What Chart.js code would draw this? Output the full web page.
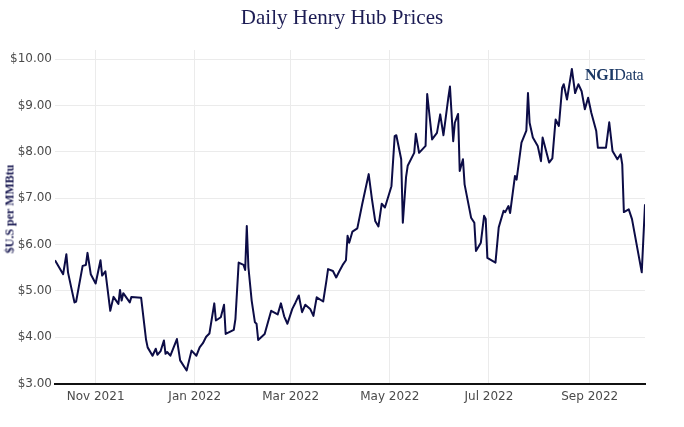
<!DOCTYPE html>
<html>
<head>
<meta charset="utf-8">
<script src="https://cdn.jsdelivr.net/npm/chart.js@4.4.0/dist/chart.umd.min.js"></script>
<style>
  html, body { margin: 0; padding: 0; background: #fff; }
  #wrap { position: relative; width: 684px; height: 427px; }
  #title { position: absolute; left: 0; width: 684px; top: 5px; text-align: center;
           font-family: "Liberation Serif", "DejaVu Serif", serif; font-size: 21px; color: #1c1c54; }
  #logo { position: absolute; left: 585px; top: 66px; font-family: "Liberation Serif", serif;
          font-size: 16px; color: #1d3a66; letter-spacing: -0.3px; white-space: nowrap; }
  #logo b { font-weight: bold; }
  #ytitle { position: absolute; left: 10px; top: 209px; transform: translate(-50%, -50%) rotate(-90deg);
            font-family: "Liberation Serif", serif; font-size: 12px; font-weight: bold; color: #14144e;
            white-space: nowrap; }
</style>
</head>
<body>
<div id="wrap">
  <canvas id="c" width="684" height="427"></canvas>
  <div id="title">Daily Henry Hub Prices</div>
  <div id="logo"><b>NGI</b>Data</div>
  <div id="ytitle">$U.S per MMBtu</div>
</div>
<script>
const dates = [
  "2021-10-07","2021-10-12","2021-10-14","2021-10-15","2021-10-17","2021-10-19","2021-10-20","2021-10-24",
  "2021-10-26","2021-10-27","2021-10-29","2021-11-01","2021-11-04","2021-11-05","2021-11-07","2021-11-10",
  "2021-11-12","2021-11-15","2021-11-16","2021-11-17","2021-11-18","2021-11-22","2021-11-23","2021-11-29",
  "2021-12-01","2021-12-02","2021-12-03","2021-12-06","2021-12-08","2021-12-09","2021-12-11","2021-12-13",
  "2021-12-14","2021-12-15","2021-12-17","2021-12-21","2021-12-23","2021-12-27","2021-12-30","2022-01-02",
  "2022-01-04","2022-01-06","2022-01-08","2022-01-10","2022-01-13","2022-01-14","2022-01-17","2022-01-19",
  "2022-01-20","2022-01-25","2022-01-26","2022-01-28","2022-01-31","2022-02-01","2022-02-02","2022-02-03",
  "2022-02-05","2022-02-07","2022-02-08","2022-02-09","2022-02-13","2022-02-17","2022-02-21","2022-02-23",
  "2022-02-25","2022-02-27","2022-03-02","2022-03-04","2022-03-06","2022-03-08","2022-03-10","2022-03-13",
  "2022-03-15","2022-03-17","2022-03-21","2022-03-23","2022-03-24","2022-03-27","2022-03-29","2022-03-31",
  "2022-04-02","2022-04-04","2022-04-05","2022-04-06","2022-04-08","2022-04-11","2022-04-14","2022-04-18",
  "2022-04-20","2022-04-22","2022-04-24","2022-04-26","2022-04-28","2022-05-02","2022-05-04","2022-05-05",
  "2022-05-08","2022-05-09","2022-05-11","2022-05-12","2022-05-16","2022-05-17","2022-05-19","2022-05-23",
  "2022-05-24","2022-05-27","2022-05-30","2022-06-01","2022-06-03","2022-06-06","2022-06-07","2022-06-09",
  "2022-06-10","2022-06-12","2022-06-13","2022-06-15","2022-06-16","2022-06-20","2022-06-22","2022-06-23",
  "2022-06-26","2022-06-28","2022-06-29","2022-06-30","2022-07-05","2022-07-07","2022-07-10","2022-07-11",
  "2022-07-13","2022-07-14","2022-07-17","2022-07-18","2022-07-21","2022-07-24","2022-07-25","2022-07-26",
  "2022-07-28","2022-07-31","2022-08-02","2022-08-03","2022-08-07","2022-08-09","2022-08-11","2022-08-13",
  "2022-08-15","2022-08-16","2022-08-18","2022-08-21","2022-08-23","2022-08-25","2022-08-27","2022-08-29",
  "2022-08-31","2022-09-02","2022-09-05","2022-09-06","2022-09-11","2022-09-13","2022-09-15","2022-09-18",
  "2022-09-20","2022-09-21","2022-09-22","2022-09-25","2022-09-27","2022-10-03","2022-10-05"
];
const prices = [
  5.66,5.36,5.79,5.40,5.07,4.75,4.77,5.54,
  5.56,5.82,5.36,5.16,5.66,5.33,5.42,4.57,
  4.87,4.72,5.02,4.79,4.95,4.75,4.87,4.85,
  4.25,3.95,3.78,3.60,3.75,3.62,3.70,3.93,
  3.64,3.68,3.60,3.96,3.50,3.28,3.71,3.60,
  3.78,3.87,4.01,4.08,4.73,4.36,4.43,4.70,
  4.07,4.16,4.39,5.61,5.56,5.45,6.40,5.51,
  4.79,4.32,4.29,3.94,4.07,4.57,4.49,4.73,
  4.45,4.29,4.61,4.75,4.90,4.54,4.70,4.61,
  4.46,4.86,4.77,5.22,5.47,5.43,5.29,5.43,
  5.56,5.66,6.19,6.04,6.28,6.35,6.87,7.52,
  6.98,6.51,6.39,6.88,6.80,7.26,8.34,8.36,
  7.84,6.47,7.46,7.70,7.98,8.39,7.98,8.13,
  9.25,8.27,8.41,8.81,8.36,9.17,9.41,8.23,
  8.63,8.82,7.59,7.84,7.30,6.58,6.47,5.86,
  6.04,6.62,6.55,5.71,5.61,6.37,6.73,6.70,
  6.83,6.68,7.48,7.40,8.20,8.46,9.27,8.63,
  8.31,8.13,7.80,8.31,7.77,7.86,8.70,8.56,
  9.38,9.46,9.13,9.79,9.27,9.46,9.31,8.92,
  9.17,8.84,8.45,8.09,8.09,8.64,8.02,7.84,
  7.95,7.73,6.70,6.76,6.55,5.40,6.87
];
const xTickDates = ["2021-11-01","2022-01-01","2022-03-01","2022-05-01","2022-07-01","2022-09-01"];
const xTickLabels = ["Nov 2021","Jan 2022","Mar 2022","May 2022","Jul 2022","Sep 2022"];
const yTickValues = [3,4,5,6,7,8,9,10];

const pts = dates.map((d, i) => ({ x: Date.parse(d), y: prices[i] }));
const xTicks = xTickDates.map(d => Date.parse(d));
const tickFont = { family: "'DejaVu Sans', Verdana, sans-serif", size: 12 };

new Chart(document.getElementById('c'), {
  type: 'line',
  data: { datasets: [{ data: pts, borderColor: '#0c0c46', borderWidth: 2, pointRadius: 0,
                        tension: 0, borderJoinStyle: 'round', fill: false }] },
  options: {
    responsive: false, animation: false, parsing: true,
    layout: { padding: { top: 50, right: 39, bottom: 0, left: 0 } },
    plugins: { legend: { display: false }, tooltip: { enabled: false }, title: { display: false } },
    scales: {
      x: {
        type: 'linear',
        min: Date.parse(dates[0]), max: Date.parse(dates[dates.length - 1]),
        afterBuildTicks: s => { s.ticks = xTicks.map(v => ({ value: v })); },
        afterFit: s => { s.height = 43.5; },
        ticks: { callback: (v, i) => xTickLabels[i], color: '#4a4a4a', font: tickFont, padding: 6, maxRotation: 0, autoSkip: false },
        grid: { color: '#ebebeb', drawTicks: false },
        border: { display: true, color: '#111', width: 2 }
      },
      y: {
        min: 3, max: 10.2,
        afterBuildTicks: s => { s.ticks = yTickValues.map(v => ({ value: v })); },
        afterFit: s => { s.width = 55; },
        ticks: { callback: v => '$' + Number(v).toFixed(2), color: '#4a4a4a', font: tickFont, padding: 3 },
        grid: { color: '#ebebeb', drawTicks: false },
        border: { display: false },
        title: { display: false }
      }
    }
  }
});
</script>
</body>
</html>
